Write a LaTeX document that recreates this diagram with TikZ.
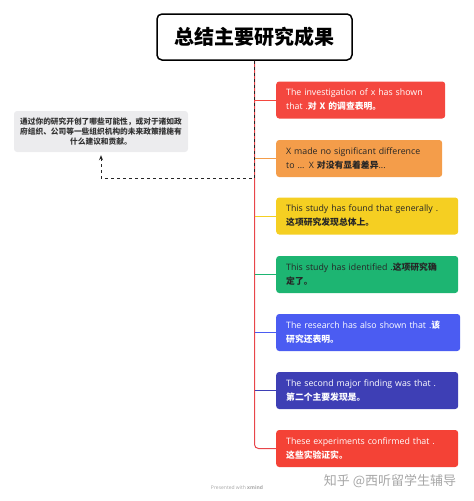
\documentclass[tikz,border=0pt]{standalone}
\usepackage{fontspec}
\setmainfont{Open Sans}
\newfontfamily\cjk{Noto Sans CJK SC}
\usepackage{tikz}
\usetikzlibrary{positioning,arrows.meta}
\definecolor{findred}{HTML}{F4473F}
\definecolor{findorange}{HTML}{F49D4A}
\definecolor{findyellow}{HTML}{F5CF22}
\definecolor{findgreen}{HTML}{1DB572}
\definecolor{findblue}{HTML}{4B5CF2}
\definecolor{findindigo}{HTML}{3E3FB5}
\definecolor{findlast}{HTML}{F44236}
\definecolor{trunkred}{HTML}{E8454A}
\definecolor{notegray}{HTML}{ECECEE}
\newcommand\cnb[1]{{\cjk\bfseries #1}}

\begin{document}
\begin{tikzpicture}[
    x=1pt, y=-1pt,          % work in pixels, y going down
    finding/.style = {rounded corners=3pt, inner xsep=10pt, inner ysep=0pt,
      minimum height=37pt, align=left, anchor=west,
      font=\fontsize{8.8}{14}\selectfont},
    branch/.style = {line width=1pt}
  ]
    \useasboundingbox (0,0) rectangle (474,501);

    \node[draw, line width=1.5pt, rounded corners=5pt, minimum width=195pt, minimum height=46pt,
      font=\cjk\bfseries\fontsize{20}{24}\selectfont] (title) at (254.5,37) {总结主要研究成果};

    \node[fill=notegray, rounded corners=3pt, minimum width=174pt, minimum height=41pt, align=center,
      text=black!80, font=\cjk\bfseries\fontsize{7.7}{9.8}\selectfont] (note) at (101,131.5)
      {通过你的研究开创了哪些可能性，或对于诸如政\\府组织、公司等一些组织机构的未来政策措施有\\什么建议和贡献。};

    % findings, top to bottom
    \node[finding, fill=findred, text=white, text width=149pt] (f1) at (276,100)
      {The investigation of x has shown\\that .\cnb{对 X 的调查表明。}};
    \node[finding, fill=findorange, text=black!85, text width=146pt] (f2) at (276,158.5)
      {X made no significant difference\\to ... X \cnb{对没有显着差异}...};
    \node[finding, fill=findyellow, text=black!85, text width=162pt] (f3) at (276,216)
      {This study has found that generally .\\\cnb{这项研究发现总体上。}};
    \node[finding, fill=findgreen, text=black!85, text width=162pt] (f4) at (276,274.5)
      {This study has identified .\cnb{这项研究确}\\\cnb{定了。}};
    \node[finding, fill=findblue, text=white, text width=164pt] (f5) at (276,332.5)
      {The research has also shown that .\cnb{该}\\\cnb{研究还表明。}};
    \node[finding, fill=findindigo, text=white, text width=162pt] (f6) at (276,390.5)
      {The second major finding was that .\\\cnb{第二个主要发现是。}};
    \node[finding, fill=findlast, text=white, text width=162pt] (f7) at (276,448.5)
      {These experiments confirmed that .\\\cnb{这些实验证实。}};

    % trunk and branches
    \draw[branch, trunkred, rounded corners=4pt] (title.south) |- (f7.west);
    \draw[branch, findred] (title.south |- f1.west) -- (f1.west);
    \draw[branch, findorange] (title.south |- f2.west) -- (f2.west);
    \draw[branch, findyellow] (title.south |- f3.west) -- (f3.west);
    \draw[branch, findgreen] (title.south |- f4.west) -- (f4.west);
    \draw[branch, findblue] (title.south |- f5.west) -- (f5.west);
    \draw[branch, findindigo] (title.south |- f6.west) -- (f6.west);

    % summary link back to the note
    \coordinate (fork) at (title.south |- 0,178);
    \draw[branch, black!85, dashed, -{Stealth[length=5pt, width=4pt]}, shorten >=3pt] (title.south) -- (fork) -| (note.south);

    \node[text=black!35, font=\fontsize{5}{6}\selectfont] (credit) at (237,488) {Presented with \textbf{xmind}};
    \node[text=black!35, font=\cjk\fontsize{13}{15}\selectfont] (mark) at (390,481) {知乎 @西听留学生辅导};
\end{tikzpicture}
\end{document}
